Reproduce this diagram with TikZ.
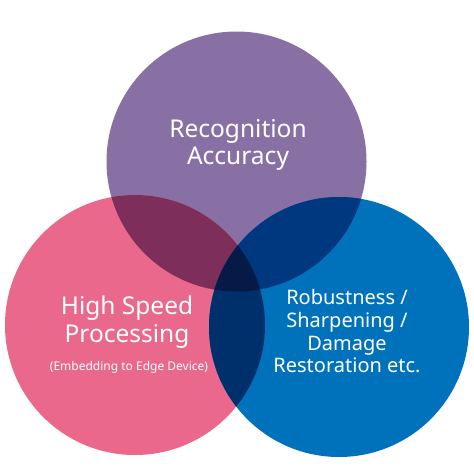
\documentclass[tikz,border=0pt]{standalone}
\usepackage{fontspec}
\setmainfont{Noto Sans}
\definecolor{cpurple}{RGB}{136,112,165}
\definecolor{cpink}{RGB}{234,104,140}
\definecolor{cblue}{RGB}{0,114,188}
\definecolor{cpp}{RGB}{125,46,91}
\definecolor{cpb}{RGB}{0,56,128}
\definecolor{cnb}{RGB}{0,48,108}
\definecolor{ctri}{RGB}{6,26,72}
\tikzset{
  lbl/.style={text=white, anchor=base, inner sep=0pt},
  big/.style={lbl, font=\fontsize{24.5}{28}\selectfont},
  mid/.style={lbl, font=\fontsize{20}{23}\selectfont},
  small/.style={lbl, font=\fontsize{12}{14}\selectfont}
}
\begin{document}
\begin{tikzpicture}[x=1pt,y=-1pt]
\useasboundingbox (0,0) rectangle (474,474);
\fill[white] (0,0) rectangle (474,474);
\def\R{130}
\coordinate (cA) at (236.5,161.5);
\coordinate (cH) at (135,325);
\coordinate (cB) at (339,327);
% base circles
\fill[cpurple] (cA) circle (\R);
\fill[cpink] (cH) circle (\R);
\fill[cblue] (cB) circle (\R);
% pairwise overlaps
\begin{scope}
  \clip (cA) circle (\R);
  \fill[cpp] (cH) circle (\R);
  \fill[cpb] (cB) circle (\R);
\end{scope}
\begin{scope}
  \clip (cH) circle (\R);
  \fill[cnb] (cB) circle (\R);
  \clip (cB) circle (\R);
  \fill[ctri] (cA) circle (\R);
\end{scope}
% labels
\node[big] (t1) at (238,137) {Recognition};
\node[big] (t2) at (238,164) {Accuracy};
\node[big] (h1) at (127,314) {High Speed};
\node[big] (h2) at (127,342) {Processing};
\node[small] (h3) at (129,370) {(Embedding to Edge Device)};
\node[mid] (r1) at (347,304) {Robustness /};
\node[mid] (r2) at (347,327) {Sharpening /};
\node[mid] (r3) at (347,350) {Damage};
\node[mid] (r4) at (347,372) {Restoration etc.};
\end{tikzpicture}
\end{document}
